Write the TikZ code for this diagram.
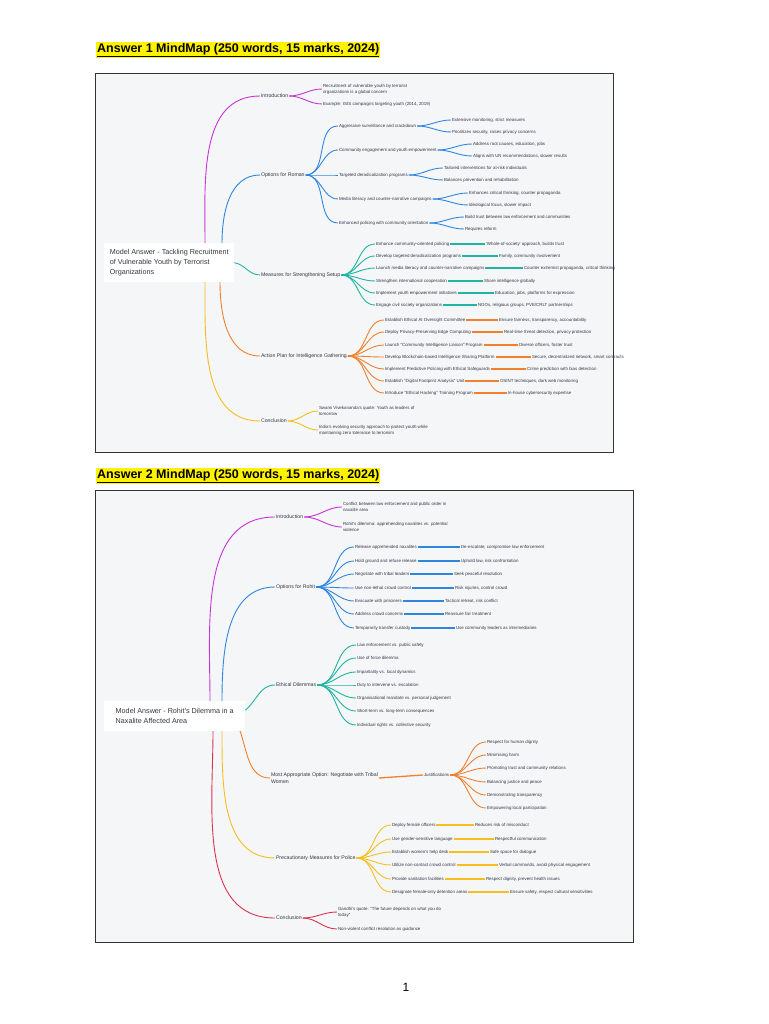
\documentclass[tikz,border=0pt]{standalone}
\usepackage{fontspec}
\setmainfont{Liberation Sans}
\usepackage{xcolor}
\definecolor{cM}{HTML}{C733D6}
\definecolor{cB}{HTML}{2F86E0}
\definecolor{cT}{HTML}{1FB5A0}
\definecolor{cO}{HTML}{F0802E}
\definecolor{cY}{HTML}{F5BE1E}
\definecolor{cR}{HTML}{D9344F}
\definecolor{bg}{HTML}{F5F6F8}
\definecolor{tx}{HTML}{333840}
\tikzset{
 leaf/.style={inner sep=0.8pt,anchor=west,text=tx,font=\fontsize{4.4}{5.8}\selectfont,align=left},
 lone/.style={inner sep=0.8pt,anchor=west,text=tx,font=\fontsize{5.2}{7}\selectfont,align=left},
 rootbox/.style={fill=white,text=tx,font=\fontsize{7.2}{10}\selectfont,align=left,anchor=north west,inner sep=5pt},
 link/.style={line width=0.9pt},
 bar/.style={line width=1.3pt},
 ttl/.style={fill=yellow,font=\bfseries\fontsize{12.5}{14}\selectfont,inner sep=1pt,anchor=west},
}
\newcommand\br[6]{\node[leaf] (#3) at (#4,-#5) {#6};
 \draw[#1,link] (#2.east) to[out=0,in=180] (#3.west);}
\newcommand\pr[8]{\br{#1}{#2}{#3}{#4}{#5}{#6}
 \node[leaf] (#3x) at (#7,-#5) {#8};
 \draw[#1,bar] (#3.east) -- (#3x.west);}
\newcommand\lo[5]{\node[lone] (#2) at (#3,-#4) {#5};}
\begin{document}
\begin{tikzpicture}[x=1pt,y=1pt]
\useasboundingbox (0,0) rectangle (768,-1024);
\fill[white] (0,0) rectangle (768,-1024);
% ---------- Panel 1 ----------
\node[ttl] (t1) at (96,-50) {\underline{Answer 1 MindMap (250 words, 15 marks, 2024)}};
\draw[fill=bg,draw=black!80,line width=0.8pt] (95,-73) rectangle (613,-452);
\node[rootbox,minimum width=130pt,minimum height=39pt] (r1) at (104,-243) {Model Answer - Tackling Recruitment\\of Vulnerable Youth by Terrorist\\Organizations};
\coordinate (a1) at (205,-243); \coordinate (b1) at (222,-243);
\coordinate (o1) at (220,-282); \coordinate (y1) at (205,-282);
\lo{cM}{i1}{260}{96}{Introduction}
\lo{cB}{op1}{260}{175}{Options for Roman}
\lo{cT}{m1}{260}{275}{Measures for Strengthening Setup}
\lo{cO}{ap1}{260}{356}{Action Plan for Intelligence Gathering}
\lo{cY}{c1}{260}{421}{Conclusion}
\draw[cM,link] (a1) to[out=90,in=180] (i1.west);
\draw[cB,link] (b1) to[out=90,in=180] (op1.west);
\draw[cT,link] (r1.east) to[out=-10,in=180] (m1.west);
\draw[cO,link] (o1) to[out=-90,in=180] (ap1.west);
\draw[cY,link] (y1) to[out=-90,in=180] (c1.west);
\br{cM}{i1}{i1a}{322}{89}{Recruitment of vulnerable youth by terrorist\\organizations is a global concern}
\br{cM}{i1}{i1b}{322}{104}{Example: ISIS campaigns targeting youth (2014, 2019)}
\br{cB}{op1}{oa}{338}{126}{Aggressive surveillance and crackdown}
\br{cB}{op1}{ob}{338}{150}{Community engagement and youth empowerment}
\br{cB}{op1}{oc}{338}{175}{Targeted deradicalization programs}
\br{cB}{op1}{od}{338}{199}{Media literacy and counter-narrative campaigns}
\br{cB}{op1}{oe}{338}{223}{Enhanced policing with community orientation}
\br{cB}{oa}{oa1}{451}{120}{Extensive monitoring, strict measures}
\br{cB}{oa}{oa2}{451}{132}{Prioritizes security, raises privacy concerns}
\br{cB}{ob}{ob1}{472}{144}{Address root causes, education, jobs}
\br{cB}{ob}{ob2}{472}{156}{Aligns with UN recommendations, slower results}
\br{cB}{oc}{oc1}{443}{168}{Tailored interventions for at-risk individuals}
\br{cB}{oc}{oc2}{443}{180}{Balances prevention and rehabilitation}
\br{cB}{od}{od1}{468}{193}{Enhances critical thinking, counter propaganda}
\br{cB}{od}{od2}{468}{205}{Ideological focus, slower impact}
\br{cB}{oe}{oe1}{464}{217}{Build trust between law enforcement and communities}
\br{cB}{oe}{oe2}{464}{229}{Requires reform}
\pr{cT}{m1}{ma}{375}{244}{Enhance community-oriented policing}{485}{`Whole-of-society' approach, builds trust}
\pr{cT}{m1}{mb}{375}{256}{Develop targeted deradicalization programs}{498}{Family, community involvement}
\pr{cT}{m1}{mc}{375}{268}{Launch media literacy and counter-narrative campaigns}{523}{Counter extremist propaganda, critical thinking}
\pr{cT}{m1}{md}{375}{281}{Strengthen international cooperation}{483}{Share intelligence globally}
\pr{cT}{m1}{me}{375}{293}{Implement youth empowerment initiatives}{494}{Education, jobs, platforms for expression}
\pr{cT}{m1}{mf}{375}{305}{Engage civil society organizations}{477}{NGOs, religious groups, PVE/CRLT partnerships}
\pr{cO}{ap1}{pa}{384}{320}{Establish Ethical AI Oversight Committee}{498}{Ensure fairness, transparency, accountability}
\pr{cO}{ap1}{pb}{384}{332}{Deploy Privacy-Preserving Edge Computing}{503}{Real-time threat detection, privacy protection}
\pr{cO}{ap1}{pc}{384}{345}{Launch ``Community Intelligence Liaison'' Program}{518}{Diverse officers, foster trust}
\pr{cO}{ap1}{pd}{384}{357}{Develop Blockchain-based Intelligence Sharing Platform}{531}{Secure, decentralized network, smart contracts}
\pr{cO}{ap1}{pe}{384}{369}{Implement Predictive Policing with Ethical Safeguards}{526}{Crime prediction with bias detection}
\pr{cO}{ap1}{pf}{384}{381}{Establish ``Digital Footprint Analysis'' Unit}{499}{OSINT techniques, dark web monitoring}
\pr{cO}{ap1}{pg}{384}{393}{Introduce ``Ethical Hacking'' Training Program}{507}{In-house cybersecurity expertise}
\br{cY}{c1}{c1a}{318}{411}{Swami Vivekananda's quote: Youth as leaders of\\tomorrow}
\br{cY}{c1}{c1b}{318}{430}{India's evolving security approach to protect youth while\\maintaining zero tolerance to terrorism}
% ---------- Panel 2 ----------
\node[ttl] (t2) at (96,-476) {\underline{Answer 2 MindMap (250 words, 15 marks, 2024)}};
\draw[fill=bg,draw=black!80,line width=0.8pt] (95,-490) rectangle (633,-942);
\node[rootbox,minimum width=141pt,minimum height=30pt] (r2) at (104,-701) {Model Answer - Rohit's Dilemma in a\\Naxalite Affected Area};
\coordinate (a2) at (210,-701); \coordinate (b2) at (222,-701);
\coordinate (o2) at (240,-731); \coordinate (y2) at (222,-731); \coordinate (z2) at (213,-731);
\lo{cM}{i2}{275}{517}{Introduction}
\lo{cB}{op2}{275}{587}{Options for Rohit}
\lo{cT}{e2}{275}{685}{Ethical Dilemmas}
\lo{cO}{ma2}{270}{778}{Most Appropriate Option: Negotiate with Tribal\\Women}
\lo{cY}{pm2}{275}{858}{Precautionary Measures for Police}
\lo{cR}{c2}{275}{918}{Conclusion}
\draw[cM,link] (a2) to[out=90,in=180] (i2.west);
\draw[cB,link] (b2) to[out=90,in=180] (op2.west);
\draw[cT,link] (r2.east) ++(0,6) to[out=40,in=180] (e2.west);
\draw[cO,link] (o2) to[out=-70,in=180] (ma2.west);
\draw[cY,link] (y2) to[out=-90,in=180] (pm2.west);
\draw[cR,link] (z2) to[out=-90,in=180] (c2.west);
\br{cM}{i2}{i2a}{342}{507}{Conflict between law enforcement and public order in\\naxalite area}
\br{cM}{i2}{i2b}{342}{527}{Rohit's dilemma: apprehending naxalites vs. potential\\violence}
\pr{cB}{op2}{qa}{354}{547}{Release apprehended naxalites}{460}{De-escalate, compromise law enforcement}
\pr{cB}{op2}{qb}{354}{561}{Hold ground and refuse release}{460}{Uphold law, risk confrontation}
\pr{cB}{op2}{qc}{354}{574}{Negotiate with tribal leaders}{453}{Seek peaceful resolution}
\pr{cB}{op2}{qd}{354}{588}{Use non-lethal crowd control}{454}{Risk injuries, control crowd}
\pr{cB}{op2}{qe}{354}{601}{Evacuate with prisoners}{444}{Tactical retreat, risk conflict}
\pr{cB}{op2}{qf}{354}{614}{Address crowd concerns}{444}{Reassure fair treatment}
\pr{cB}{op2}{qg}{354}{628}{Temporarily transfer custody}{455}{Use community leaders as intermediaries}
\br{cT}{e2}{ea}{356}{645}{Law enforcement vs. public safety}
\br{cT}{e2}{eb}{356}{658}{Use of force dilemma}
\br{cT}{e2}{ec}{356}{672}{Impartiality vs. local dynamics}
\br{cT}{e2}{ed}{356}{685}{Duty to intervene vs. escalation}
\br{cT}{e2}{ee}{356}{698}{Organisational mandate vs. personal judgement}
\br{cT}{e2}{ef}{356}{711}{Short-term vs. long-term consequences}
\br{cT}{e2}{eg}{356}{725}{Individual rights vs. collective security}
\node[leaf] (j2) at (423,-775) {Justifications};
\draw[cO,bar] (ma2.east) -- (j2.west);
\br{cO}{j2}{ja}{486}{742}{Respect for human dignity}
\br{cO}{j2}{jb}{486}{755}{Minimising harm}
\br{cO}{j2}{jc}{486}{768}{Promoting trust and community relations}
\br{cO}{j2}{jd}{486}{782}{Balancing justice and peace}
\br{cO}{j2}{je}{486}{795}{Demonstrating transparency}
\br{cO}{j2}{jf}{486}{808}{Empowering local participation}
\pr{cY}{pm2}{ka}{391}{825}{Deploy female officers}{474}{Reduces risk of misconduct}
\pr{cY}{pm2}{kb}{391}{839}{Use gender-sensitive language}{494}{Respectful communication}
\pr{cY}{pm2}{kc}{391}{852}{Establish women's help desk}{489}{Safe space for dialogue}
\pr{cY}{pm2}{kd}{391}{865}{Utilize non-contact crowd control}{498}{Verbal commands, avoid physical engagement}
\pr{cY}{pm2}{ke}{391}{879}{Provide sanitation facilities}{485}{Respect dignity, prevent health issues}
\pr{cY}{pm2}{kf}{391}{892}{Designate female-only detention areas}{509}{Ensure safety, respect cultural sensitivities}
\br{cR}{c2}{c2a}{337}{912}{Gandhi's quote: ``The future depends on what you do\\today''}
\br{cR}{c2}{c2b}{337}{929}{Non-violent conflict resolution as guidance}
\node[font=\fontsize{12}{14}\selectfont] (pg) at (406,-987) {1};
\end{tikzpicture}
\end{document}
